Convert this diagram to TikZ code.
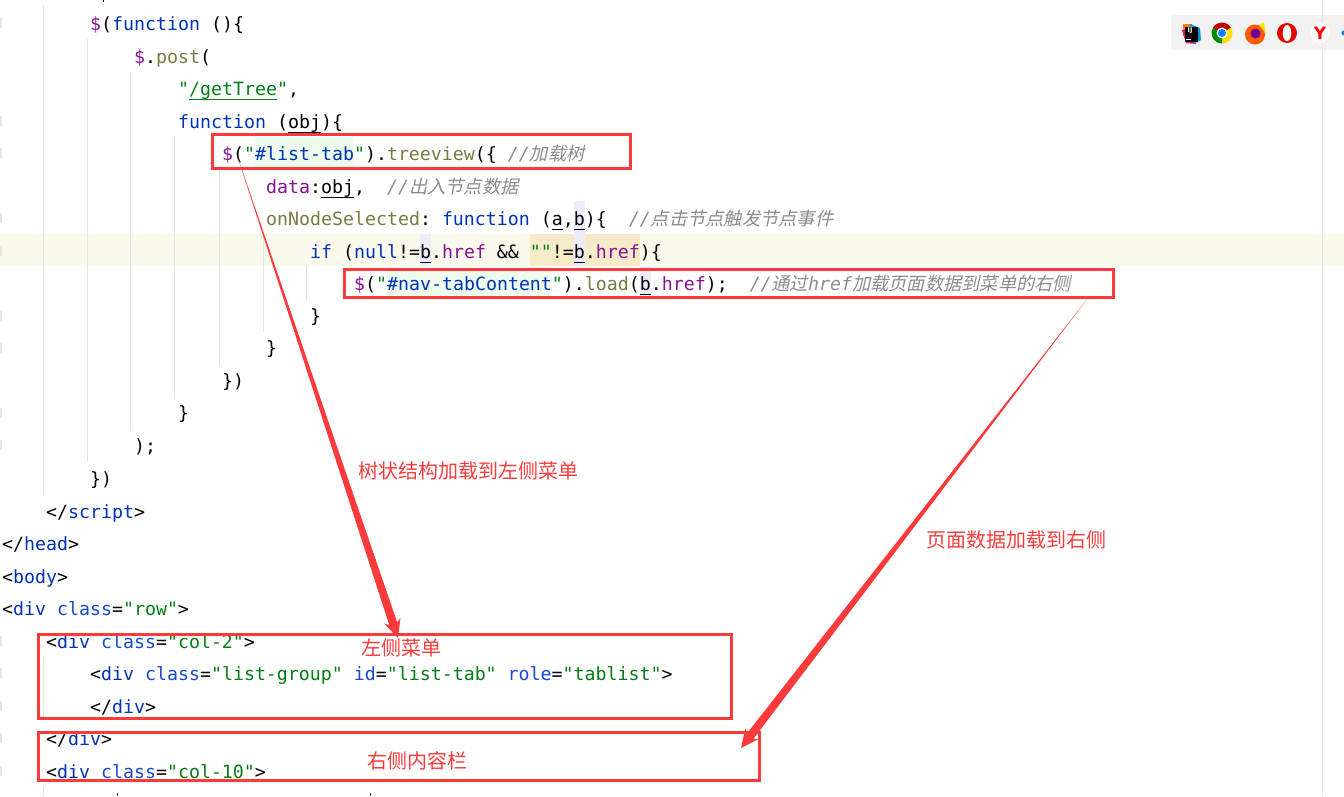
\documentclass[tikz,border=0pt]{standalone}
\usepackage{fontspec}
\usetikzlibrary{calc}
\newfontfamily\codefont{DejaVu Sans Mono}
\newfontfamily\cjkfont[FakeSlant=0.22]{Noto Sans CJK SC}
\newfontfamily\markfont{Noto Sans CJK SC}
\newfontfamily\iconfont{DejaVu Sans}
\definecolor{kwblue}{HTML}{0033B3}
\definecolor{attrblue}{HTML}{174AD4}
\definecolor{strgreen}{HTML}{067D17}
\definecolor{purp}{HTML}{871094}
\definecolor{oliv}{HTML}{7A7A43}
\definecolor{cmtgray}{HTML}{8C8C8C}
\definecolor{markred}{HTML}{FB3B3B}
\definecolor{guide}{HTML}{E6E6E6}
\definecolor{lineyellow}{HTML}{FBF9EC}
\definecolor{hlgreen}{HTML}{EDFCED}
\definecolor{hlyellow}{HTML}{F5EBC8}
\definecolor{hlviolet}{HTML}{EDEBFC}
\newcommand{\kwd}[1]{\textcolor{kwblue}{#1}}
\newcommand{\atr}[1]{\textcolor{attrblue}{#1}}
\newcommand{\strg}[1]{\textcolor{strgreen}{#1}}
\newcommand{\dol}[1]{\textcolor{purp}{#1}}
\newcommand{\olv}[1]{\textcolor{oliv}{#1}}
\newcommand{\ul}[1]{\setbox0\hbox{#1}\rlap{\rule[-5pt]{\wd0}{1.1pt}}\box0 }
\newcommand{\cmt}[1]{\textcolor{cmtgray}{\itshape //#1}}
\newcommand{\cjk}[1]{{\cjkfont #1}}
\newcommand{\taper}[2]{\fill[markred] (#1)
   -- ($(#2)!15pt!(#1)!4.2pt!90:(#2)$) -- ($(#2)!18pt!(#1)!8.5pt!90:(#2)$) -- (#2)
   -- ($(#2)!18pt!(#1)!8.5pt!-90:(#2)$) -- ($(#2)!15pt!(#1)!4.2pt!-90:(#2)$) -- cycle;}
\tikzset{
  codeln/.style={anchor=base west,inner sep=0pt,text=black,font=\codefont\fontsize{18.25}{20}\selectfont\frenchspacing},
  markbox/.style={draw=markred,line width=3pt,inner sep=0pt},
  marklbl/.style={inner sep=0pt,text=markred,font=\markfont\fontsize{20}{22}\selectfont},
  guideln/.style={guide,line width=.8pt}
}
\begin{document}
\begin{tikzpicture}[x=1pt,y=-1pt]
   \useasboundingbox (0,0) rectangle (1344,796);
   \fill[white] (0,0) rectangle (1344,796);
   % highlights
   \fill[lineyellow] (0,234) rectangle (1344,266);
   \fill[hlgreen] (255,137) rectangle (354,168);
   \fill[hlgreen] (387,269) rectangle (552,298);
   \fill[hlyellow] (530,234) rectangle (640,266);
   \fill[hlviolet] (574,201) rectangle (585,266);
   \fill[hlviolet] (420,234) rectangle (431,266);
   \fill[hlviolet] (640,266) rectangle (651,298);
   % indent guides
   \draw[guideln] ( 43,  6) -- ( 43,495);
   \draw[guideln] ( 87, 39) -- ( 87,462);
   \draw[guideln] (130, 72) -- (130,430);
   \draw[guideln] (174,136) -- (174,398);
   \draw[guideln] (219,170) -- (219,365);
   \draw[guideln] (263,234) -- (263,332);
   \draw[guideln] (306,266) -- (306,300);
   \draw[guideln] ( 43,657) -- ( 43,720);
   \draw[guideln] ( 43,787) -- ( 43,796);
   % gutter marks
   \foreach \y in {23,121,153,218,251,316,348,413,445,641,673,706,738,771}
      \fill[guide] (0,\y-5) rectangle (2,\y+5);
   % cut off lines
   \draw[black,line width=1pt] (103,0) -- (103,2);
   \draw[kwblue,line width=1pt] (117,793) -- (117,796);
   \draw[kwblue,line width=1pt] (370,793) -- (370,796);
   % browser bar
   \fill[black!5,rounded corners=3pt] (1171,15) rectangle (1350,50);
   \draw[guideln] (1322.5,0) -- (1322.5,796);
   \fill[white] (1320,33) circle[radius=10pt];
   \fill[orange] (1183,24) rectangle (1192,36);
   \fill[magenta!80!red] (1182,30) -- (1192,28) -- (1196,44) -- (1186,43) -- cycle;
   \fill[cyan!80!blue] (1190,24) -- (1200,28) -- (1201,40) -- (1194,44) -- cycle;
   \fill[black] (1184.5,27) rectangle (1198,42);
   \node[inner sep=0pt,text=white,font=\iconfont\bfseries\fontsize{6.5}{7}\selectfont] (ijtxt) at (1190,31) {IJ};
   \fill[white] (1186,38.5) rectangle (1191,39.5);
   \fill[red!75!black] (1222,33) -- ++(30:10.5pt) arc[start angle=30,end angle=150,radius=10.5pt] -- cycle;
   \fill[yellow!80!orange] (1222,33) -- ++(-90:10.5pt) arc[start angle=-90,end angle=30,radius=10.5pt] -- cycle;
   \fill[green!55!black] (1222,33) -- ++(150:10.5pt) arc[start angle=150,end angle=270,radius=10.5pt] -- cycle;
   \fill[white] (1222,33) circle[radius=5.5pt];
   \fill[blue!50!cyan] (1222,33) circle[radius=4pt];
   \fill[orange!70!red] (1255,34.5) circle[radius=10pt];
   \fill[yellow!85!orange] (1259,25) -- (1264,22) -- (1265.5,33) -- cycle;
   \fill[violet!85!blue] (1255.5,33.5) circle[radius=5pt];
   \fill[red!90!black] (1287,33) circle[radius=10pt];
   \fill[white] (1287,33) ellipse[x radius=4.3pt,y radius=8pt];
   \node[inner sep=0pt,text=red,font=\iconfont\bfseries\fontsize{17}{18}\selectfont] (yatxt) at (1320,33) {Y};
   \fill[blue!50!cyan] (1344,33) circle[radius=2.5pt];
   % code
   \node[codeln] (ln1)  at ( 90, 30) {\dol{\$}(\kwd{function} ()\{};
   \node[codeln] (ln2)  at (134, 63) {\dol{\$}.\olv{post}(};
   \node[codeln] (ln3)  at (178, 95) {\strg{"\ul{/getTree}"},};
   \node[codeln] (ln4)  at (178,128) {\kwd{function} (\ul{obj})\{};
   \node[codeln] (ln5)  at (222,160) {\dol{\$}(\strg{"}\kwd{\#list-tab}\strg{"}).\olv{treeview}(\{ \cmt{\cjk{加载树}}};
   \node[codeln] (ln6)  at (266,193) {\dol{data}:\ul{obj},\ \ \cmt{\cjk{出入节点数据}}};
   \node[codeln] (ln7)  at (266,225) {\olv{onNodeSelected}: \kwd{function} (\ul{a},\ul{b})\{\ \ \cmt{\cjk{点击节点触发节点事件}}};
   \node[codeln] (ln8)  at (310,258) {\kwd{if} (\kwd{null}!=\ul{b}.\dol{href} \&\& \strg{""}!=\ul{b}.\dol{href})\{};
   \node[codeln] (ln9)  at (354,290) {\dol{\$}(\strg{"}\kwd{\#nav-tabContent}\strg{"}).\olv{load}(\ul{b}.\dol{href});\ \ \cmt{\cjk{通过}href\cjk{加载页面数据到菜单的右侧}}};
   \node[codeln] (ln10) at (310,322) {\}};
   \node[codeln] (ln11) at (266,354) {\}};
   \node[codeln] (ln12) at (222,387) {\})};
   \node[codeln] (ln13) at (178,419) {\}};
   \node[codeln] (ln14) at (134,452) {);};
   \node[codeln] (ln15) at ( 90,485) {\})};
   \node[codeln] (ln16) at ( 46,518) {</\kwd{script}>};
   \node[codeln] (ln17) at (  2,550) {</\kwd{head}>};
   \node[codeln] (ln18) at (  2,583) {<\kwd{body}>};
   \node[codeln] (ln19) at (  2,615) {<\kwd{div} \atr{class}=\strg{"row"}>};
   \node[codeln] (ln20) at ( 46,648) {<\kwd{div} \atr{class}=\strg{"col-2"}>};
   \node[codeln] (ln21) at ( 90,680) {<\kwd{div} \atr{class}=\strg{"list-group"} \atr{id}=\strg{"list-tab"} \atr{role}=\strg{"tablist"}>};
   \node[codeln] (ln22) at ( 90,713) {</\kwd{div}>};
   \node[codeln] (ln23) at ( 46,745) {</\kwd{div}>};
   \node[codeln] (ln24) at ( 46,778) {<\kwd{div} \atr{class}=\strg{"col-10"}>};
   % red boxes
   \node[markbox,minimum width=418pt,minimum height=34pt] (treeBox) at (421.5,151.5) {};
   \node[markbox,minimum width=769pt,minimum height=28pt] (loadBox) at (728.5,283) {};
   \node[markbox,minimum width=693pt,minimum height=84pt] (menuBox) at (384.5,676.5) {};
   \node[markbox,minimum width=721pt,minimum height=48pt] (mainBox) at (398.5,756.5) {};
   % arrows
   \coordinate (treeFrom) at (236,152);
   \coordinate (menuTip)  at (398,638);
   \coordinate (loadFrom) at (1088,298);
   \coordinate (mainTip)  at (741,748);
   \taper{treeFrom}{menuTip}
   \taper{loadFrom}{mainTip}
   % labels
   \node[marklbl] (treeLbl) at ( 468,471) {树状结构加载到左侧菜单};
   \node[marklbl] (loadLbl) at (1016,540) {页面数据加载到右侧};
   \node[marklbl] (menuLbl) at ( 401,648) {左侧菜单};
   \node[marklbl] (mainLbl) at ( 417,761) {右侧内容栏};
\end{tikzpicture}
\end{document}
